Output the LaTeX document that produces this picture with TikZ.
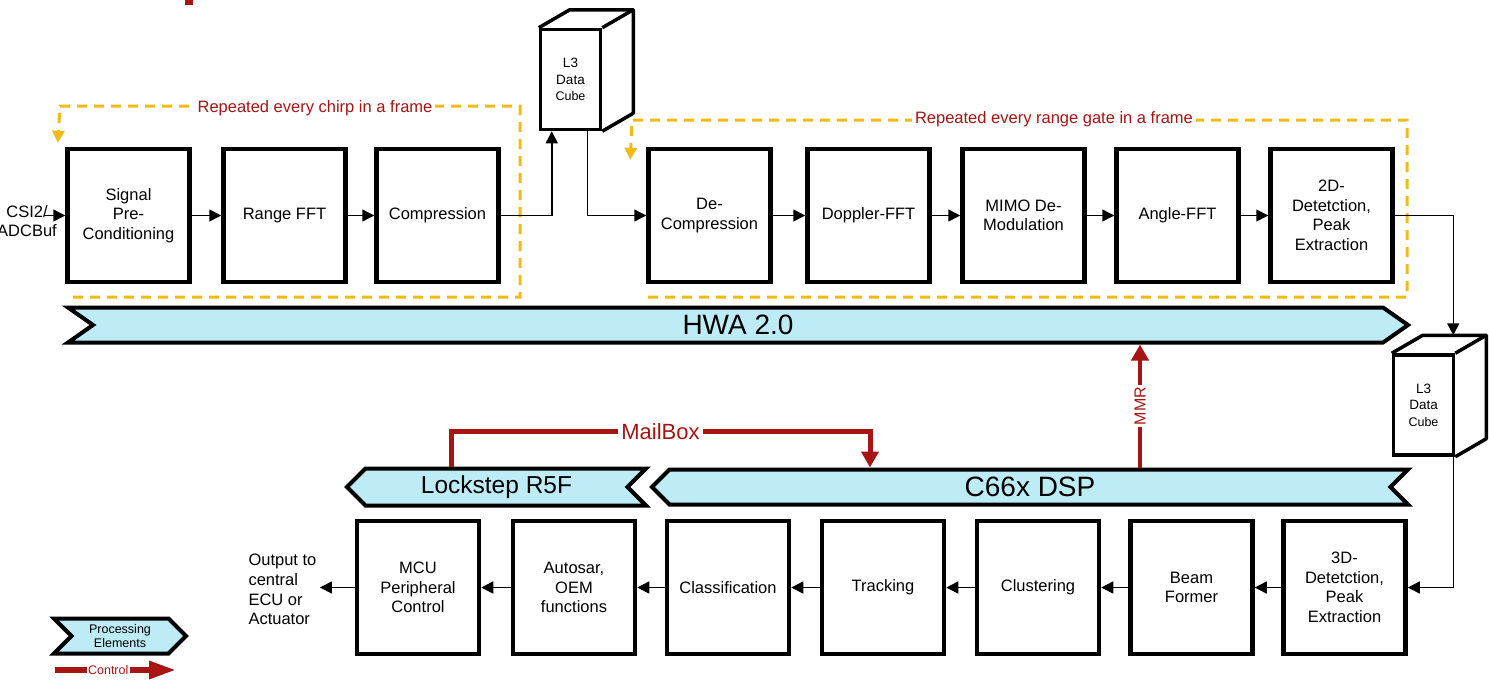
\documentclass[tikz,border=0pt]{standalone}
\usepackage{fontspec}
\setmainfont{Liberation Sans}
\usetikzlibrary{arrows.meta}
\usetikzlibrary{positioning}
\usetikzlibrary{shapes.symbols}
\definecolor{pecyan}{RGB}{190,236,246}
\definecolor{ctrlred}{RGB}{166,20,20}
\definecolor{loopyellow}{RGB}{242,186,20}
\tikzset{
    block/.style={draw,line width=4.5pt,minimum width=122pt,minimum height=133pt,inner sep=2pt,
    align=center,font=\fontsize{16.5}{19.5}\selectfont},
    pe/.style={draw,line width=4pt,fill=pecyan,signal,signal pointer angle=90,inner sep=0pt},
    cube/.style={draw,line width=3.5pt,minimum width=60pt,minimum height=100pt,inner sep=0pt,
    align=center,font=\fontsize{13.5}{16.5}\selectfont},
    cubeside/.style={line width=3.5pt,line join=round},
    flow/.style = {-{Triangle[length=12pt,width=12pt]},line width=1.5pt},
    ctrl/.style = {-{Triangle[length=16pt,width=17pt]},line width=5pt,draw=ctrlred},
    rep/.style = {-{Triangle[length=12pt,width=12pt]},line width=3pt,draw=loopyellow,
    dash pattern=on 10pt off 7pt},
    reptext/.style={fill=white,text=ctrlred,inner sep=3pt,font=\fontsize{16.5}{19}\selectfont}
}
\begin{document}
\begin{tikzpicture}[x=1pt,y=-1pt]
\useasboundingbox (0,0) rectangle (1489,683);
\fill[ctrlred] (185,0) rectangle (193,5);

% HWA chain
\node[block] (sig) at (128.5,215.5) {Signal\\Pre-\\Conditioning};
\node[block] (rfft) at (284.5,215.5) {Range FFT};
\node[block] (comp) at (437.5,215.5) {Compression};
\node[block] (decomp) at (709.5,215.5) {De-\\Compression};
\node[block] (dfft) at (868.5,215.5) {Doppler-FFT};
\node[block] (mimo) at (1023.5,215.5) {MIMO De-\\Modulation};
\node[block] (afft) at (1177.5,215.5) {Angle-FFT};
\node[block] (det2d) at (1331.5,215.5) {2D-\\Detetction,\\Peak\\Extraction};

% DSP / R5F chain
\node[block] (mcu) at (418,587.5) {MCU\\Peripheral\\Control};
\node[block] (oem) at (574,587.5) {Autosar,\\OEM\\functions};
\node[block] (cls) at (728,587.5) {Classification};
\node[block] (trk) at (883,587.5) {Tracking};
\node[block] (clus) at (1038,587.5) {Clustering};
\node[block] (beam) at (1191.5,587.5) {Beam\\Former};
\node[block] (det3d) at (1344.5,587.5) {3D-\\Detetction,\\Peak\\Extraction};

\node[align=center,font=\fontsize{16.5}{19.5}\selectfont] (csi) at (27,221) {CSI2/\\ADCBuf};
\node[align=left,anchor=west,font=\fontsize{16.5}{19.7}\selectfont] (out) at (245,589.5) {Output to\\central\\ECU or\\Actuator};

% processing elements
\node[pe,signal from=west,signal to=east,signal pointer angle=70,minimum width=1340pt,minimum height=35pt,
  font=\fontsize{28}{30}\selectfont] (hwa) at (738,325) {HWA 2.0};
\node[pe,signal from=east,signal to=west,minimum width=756pt,minimum height=35pt,
  font=\fontsize{28}{30}\selectfont] (dsp) at (1030,487) {C66x DSP};
\node[pe,signal from=east,signal to=west,minimum width=299pt,minimum height=37pt,
  font=\fontsize{24.5}{26}\selectfont] (lock) at (496.5,487) {Lockstep R5F};

% data cubes
\node[cube] (l3a) at (570.5,79.5) {L3\\Data\\{\fontsize{12.5}{16.5}\selectfont Cube}};
\draw[cubeside] (l3a.north west) -- ([shift={(31,-18)}]l3a.north west) -- ([shift={(31,-18)}]l3a.north east)
  -- ([shift={(31,-18)}]l3a.south east) -- (l3a.south east);
\draw[cubeside] (l3a.north east) -- ([shift={(31,-18)}]l3a.north east);
\node[cube] (l3b) at (1423.5,405) {L3\\Data\\{\fontsize{12.5}{16.5}\selectfont Cube}};
\draw[cubeside] (l3b.north west) -- ([shift={(31,-18)}]l3b.north west) -- ([shift={(31,-18)}]l3b.north east)
  -- ([shift={(31,-18)}]l3b.south east) -- (l3b.south east);
\draw[cubeside] (l3b.north east) -- ([shift={(31,-18)}]l3b.north east);

% repeat loops
\draw[rep] (73,297) -- (520,297) -- (520,106) -- (60,106) -- ([xshift=-7.5pt,yshift=4pt]sig.north west);
\node[reptext] (chirp) at (315,108) {Repeated every chirp in a frame};
\draw[rep] (648,297) -- (1407,297) -- (1407,120) -- (632,120) -- ([xshift=-16pt,yshift=-13pt]decomp.north west);
\node[reptext] (gate) at (1054,119) {Repeated every range gate in a frame};

% data flow
\coordinate (csiout) at ([xshift=-16pt]csi.east);
\draw[flow] (csiout |- sig.west) -- (sig.west);
\draw[flow] (sig.east) -- (rfft.west);
\draw[flow] (rfft.east) -- (comp.west);
\draw[flow] (comp.east) -| ([xshift=13pt]l3a.south west);
\draw[flow] ([xshift=-15pt]l3a.south east) |- (decomp.west);
\draw[flow] (decomp.east) -- (dfft.west);
\draw[flow] (dfft.east) -- (mimo.west);
\draw[flow] (mimo.east) -- (afft.west);
\draw[flow] (afft.east) -- (det2d.west);
\draw[flow] (det2d.east) -| ([xshift=-2pt,yshift=18pt]l3b.north east);
\draw[flow] ([xshift=-2pt]l3b.south east) |- (det3d.east);
\draw[flow] (det3d.west) -- (beam.east);
\draw[flow] (beam.west) -- (clus.east);
\draw[flow] (clus.west) -- (trk.east);
\draw[flow] (trk.west) -- (cls.east);
\draw[flow] (cls.west) -- (oem.east);
\draw[flow] (oem.west) -- (mcu.east);
\draw[flow] (mcu.west) -- (mcu.west -| out.east);

% control
\draw[ctrl] ([xshift=-45.5pt]lock.north) -- ++(0,-35) -| node[pos=0.25,fill=white,text=ctrlred,inner sep=3pt,
  font=\fontsize{22}{24}\selectfont] (mailbox) {MailBox} ([xshift=-160pt]dsp.north);
\coordinate (mmrfoot) at ([xshift=110pt]dsp.north);
\draw[ctrl,line width=4.5pt] (mmrfoot) -- (mmrfoot |- hwa.south) node[midway,rotate=90,fill=white,text=ctrlred,
  inner sep=2pt,font=\fontsize{16}{18}\selectfont] (mmr) {MMR};

% legend
\node[pe,signal from=west,signal to=east,minimum width=132pt,minimum height=35pt,align=center,
  font=\fontsize{12.5}{14}\selectfont] (legpe) at (120,636) {Processing\\Elements};
\coordinate (ctrlA) at (55,670);
\coordinate (ctrlB) at (176,670);
\draw[ctrl,-{Triangle[length=27pt,width=17pt]},line width=6pt] (ctrlA) -- (ctrlB) node[pos=0.44,fill=white,
  text=ctrlred,inner sep=1.5pt,font=\fontsize{12.5}{14}\selectfont] (ctrltxt) {Control};
\end{tikzpicture}
\end{document}
